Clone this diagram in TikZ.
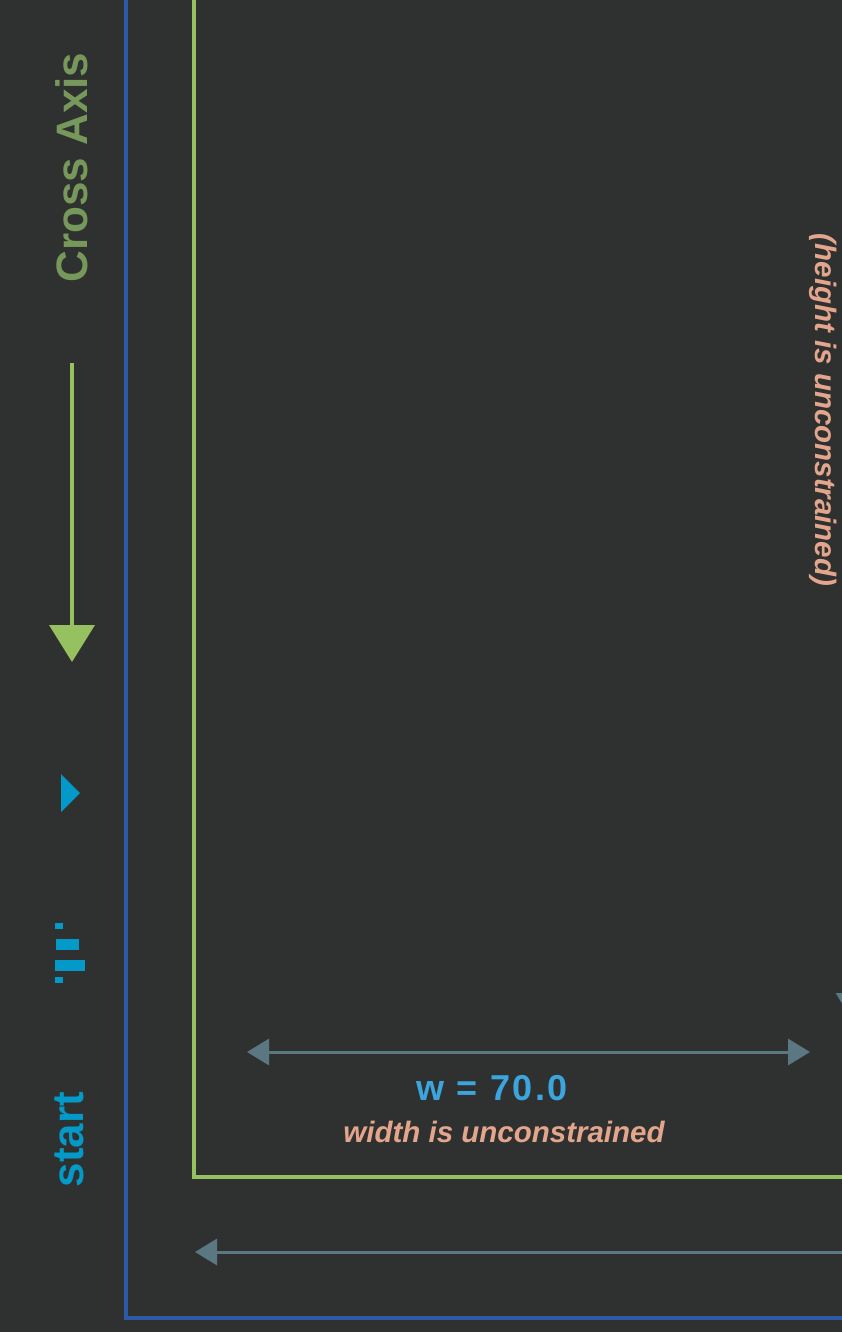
\documentclass[tikz,border=0pt]{standalone}
\usepackage{fontspec}
\setmainfont{Liberation Sans}
\newfontfamily\valfont[LetterSpace=7]{Liberation Sans}
\usetikzlibrary{arrows.meta}
\definecolor{bgdark}{HTML}{2F3130}
\definecolor{frameblue}{HTML}{2B5BA6}
\definecolor{boxgreen}{HTML}{95C160}
\definecolor{axisgreen}{HTML}{76985A}
\definecolor{dimgray}{HTML}{5B7882}
\definecolor{startcyan}{HTML}{0399C8}
\definecolor{valblue}{HTML}{3DA5DD}
\definecolor{notesalmon}{HTML}{E3A68C}
\tikzset{dimarrow/.style={dimgray, line width=3pt, >={Triangle[length=22pt,width=26pt]}}}
\tikzset{note/.style={notesalmon, font=\fontsize{29.5}{30}\selectfont\bfseries\itshape, inner sep=0pt}}

\begin{document}
\begin{tikzpicture}[x=1pt,y=-1pt]

		\useasboundingbox (0,0) rectangle (842,1332);
		\fill[bgdark] (0,0) rectangle (842,1332);
		\clip (0,0) rectangle (842,1332);

		% outer and inner boxes
		\draw[frameblue, line width=4pt] (126,-10) -- (126,1318) -- (860,1318);
		\draw[boxgreen, line width=3.5pt] (194,-10) -- (194,1177) -- (860,1177);

		% cross axis
		\node[axisgreen, rotate=90, inner sep=0pt, font=\fontsize{44}{44}\selectfont\bfseries] (crossaxis) at (71.5,167.5) {Cross Axis};
		\coordinate (axistop) at (72,363);
		\coordinate (axisend) at (72,662);
		\draw[boxgreen, line width=4pt, -{Triangle[length=37pt,width=45pt]}] (axistop) -- (axisend);

		% start marks
		\fill[startcyan] (61,774) -- (80,793) -- (61,812) -- cycle;
		\fill[startcyan] (55,922.7) rectangle (62.7,928.7);
		\fill[startcyan] (55.7,939) rectangle (78.7,949.7);
		\fill[startcyan] (55,959.7) rectangle (85,971.3);
		\fill[startcyan] (55,977) rectangle (62.7,983.3);
		\node[startcyan, rotate=90, inner sep=0pt, font=\fontsize{44}{44}\selectfont\bfseries] (start) at (69,1139.5) {start};

		% width
		\coordinate (wleft) at (247,1052);
		\coordinate (wright) at (810,1052);
		\draw[dimarrow, <->] (wleft) -- (wright);
		\node[valblue, inner sep=0pt, font=\fontsize{36}{36}\valfont\bfseries] (wval) at (492,1088) {w = 70.0};
		\node[note] (wnote) at (504,1132) {width is unconstrained};

		% height
		\node[note, rotate=-90] (hnote) at (823,410) {(height is unconstrained)};
		\coordinate (htop) at (849,900);
		\coordinate (hbottom) at (849,1015);
		\draw[dimarrow, ->] (htop) -- (hbottom);

		% outer width
		\coordinate (oleft) at (195,1252);
		\coordinate (oright) at (860,1252);
		\draw[dimarrow, <-] (oleft) -- (oright);
	\end{tikzpicture}
\end{document}
